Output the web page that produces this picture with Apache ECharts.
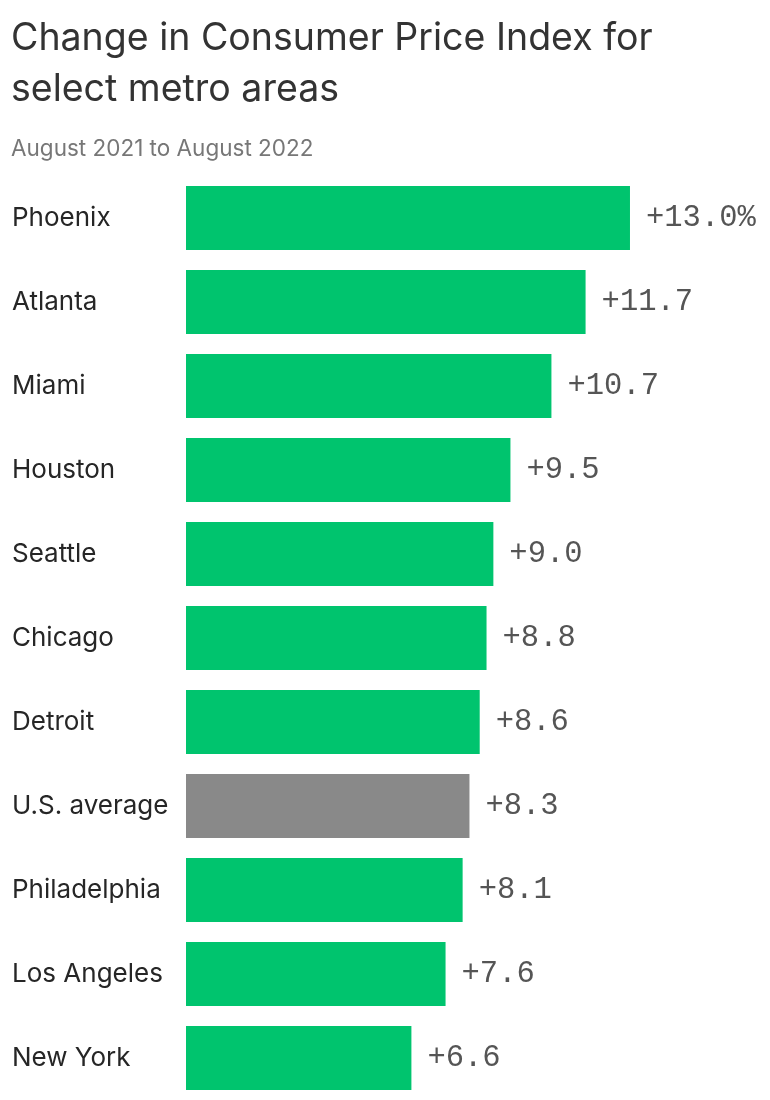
<!DOCTYPE html>
<html>
<head>
<meta charset="utf-8">
<script src="https://cdn.jsdelivr.net/npm/echarts@6/dist/echarts.min.js"></script>
<style>
  html, body { margin: 0; padding: 0; background: #fff; }
  #chart { width: 770px; height: 1100px; }
</style>
</head>
<body>
<div id="chart"></div>
<script>
const cities = ['Phoenix', 'Atlanta', 'Miami', 'Houston', 'Seattle', 'Chicago', 'Detroit',
  'U.S. average', 'Philadelphia', 'Los Angeles', 'New York']
const cpiChange = [13.0, 11.7, 10.7, 9.5, 9.0, 8.8, 8.6, 8.3, 8.1, 7.6, 6.6]

const green = '#00c46e'
const grey = '#898989'

const chart = echarts.init(document.getElementById('chart'))

chart.setOption({
  animation: false,
  title: {
    text: 'Change in Consumer Price Index for\nselect metro areas',
    subtext: 'August 2021 to August 2022',
    left: 6,
    top: 8,
    itemGap: 23,
    textStyle: {
      fontFamily: 'Inter',
      fontSize: 37.5,
      fontWeight: 'normal',
      lineHeight: 51,
      color: '#333'
    },
    subtextStyle: {
      fontFamily: 'Inter',
      fontSize: 22.5,
      color: '#777'
    }
  },
  grid: { left: 186, right: 0, top: 176, height: 924, containLabel: false },
  xAxis: {
    type: 'value',
    min: 0,
    max: 17.1,
    show: false
  },
  yAxis: {
    type: 'category',
    data: cities,
    inverse: true,
    axisLine: { show: false },
    axisTick: { show: false },
    axisLabel: {
      align: 'left',
      margin: 174,
      fontFamily: 'Inter',
      fontSize: 26,
      color: '#262626'
    }
  },
  series: [{
    type: 'bar',
    barWidth: 64,
    data: cpiChange.map((v, i) => ({
      value: v,
      itemStyle: { color: cities[i] === 'U.S. average' ? grey : green }
    })),
    label: {
      show: true,
      position: 'right',
      distance: 16,
      fontFamily: 'Liberation Mono',
      fontSize: 30.5,
      color: '#555',
      formatter: p => '+' + p.value.toFixed(1) + (p.dataIndex === 0 ? '%' : '')
    }
  }]
})
</script>
</body>
</html>
